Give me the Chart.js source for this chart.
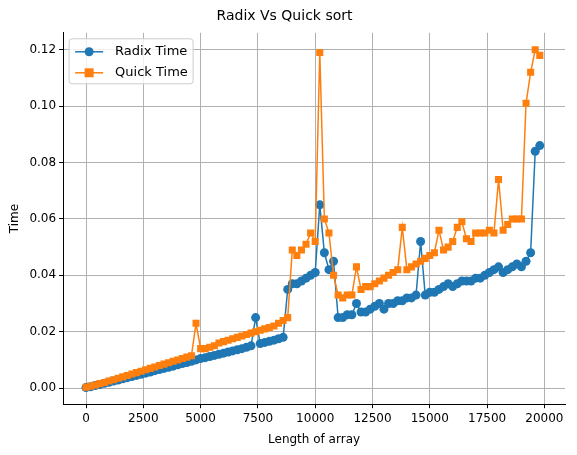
<!DOCTYPE html>
<html><head><script src="https://cdn.jsdelivr.net/npm/chart.js"></script>
<style>body{margin:0;background:#fff}</style></head>
<body><canvas id="c" width="577" height="455"></canvas>
<script>
const lengths=[];for(let i=0;i<100;i++)lengths.push(i*200);
const radixTime=[0.0002,0.0005,0.0009,0.0013,0.0017,0.0021,0.0025,0.0029,0.0033,0.0037,0.0041,0.0045,0.0049,0.0053,0.0057,0.0062,0.0066,0.0070,0.0074,0.0078,0.0083,0.0087,0.0091,0.0095,0.0100,0.0105,0.0108,0.0112,0.0116,0.0120,0.0124,0.0128,0.0132,0.0136,0.0140,0.0145,0.0150,0.0250,0.0158,0.0162,0.0166,0.0170,0.0175,0.0180,0.035,0.037,0.037,0.038,0.039,0.040,0.041,0.065,0.048,0.042,0.045,0.025,0.025,0.026,0.026,0.030,0.027,0.027,0.028,0.029,0.030,0.028,0.030,0.030,0.031,0.031,0.032,0.032,0.033,0.052,0.033,0.034,0.034,0.035,0.036,0.037,0.036,0.037,0.038,0.038,0.038,0.039,0.039,0.040,0.041,0.042,0.043,0.041,0.042,0.043,0.044,0.043,0.045,0.048,0.084,0.086];
const quickTime=[0.0003,0.0007,0.0011,0.0016,0.0020,0.0025,0.0030,0.0035,0.0040,0.0045,0.0050,0.0055,0.0060,0.0065,0.0070,0.0075,0.0080,0.0085,0.0090,0.0095,0.0100,0.0105,0.0110,0.0115,0.0230,0.0140,0.0140,0.0145,0.0150,0.0160,0.0165,0.0170,0.0175,0.0180,0.0185,0.0190,0.0195,0.0200,0.0205,0.0210,0.0215,0.0220,0.0230,0.0240,0.0250,0.049,0.047,0.049,0.051,0.055,0.052,0.119,0.060,0.055,0.040,0.033,0.032,0.033,0.033,0.043,0.035,0.036,0.036,0.037,0.038,0.039,0.040,0.041,0.042,0.057,0.042,0.043,0.044,0.045,0.046,0.047,0.048,0.056,0.049,0.050,0.052,0.057,0.059,0.053,0.052,0.055,0.055,0.055,0.056,0.055,0.074,0.056,0.058,0.060,0.060,0.060,0.101,0.112,0.120,0.118];
const xTicks=[0,2500,5000,7500,10000,12500,15000,17500,20000];
const yTicks=[0,0.02,0.04,0.06,0.08,0.10,0.12];
const blue='#1f77b4',orange='#ff7f0e';
Chart.defaults.font.family='"DejaVu Sans"';Chart.defaults.font.size=10;Chart.defaults.color='#000';
const legendPlugin={id:'lg',afterDraw(ch){const c=ch.ctx,a=ch.chartArea;const x=a.left+6,y=a.top+6;
c.save();c.fillStyle='rgba(255,255,255,0.8)';c.strokeStyle='#ccc';c.lineWidth=1;
c.beginPath();c.roundRect(x,y,124,45,3);c.fill();c.stroke();
[[blue,'Radix Time','c'],[orange,'Quick Time','s']].forEach((e,i)=>{const yy=y+13+i*21;
c.strokeStyle=e[0];c.lineWidth=1.5;c.beginPath();c.moveTo(x+6,yy);c.lineTo(x+34,yy);c.stroke();
c.fillStyle=e[0];if(e[2]=='c'){c.beginPath();c.arc(x+20,yy,4.5,0,7);c.fill();}else c.fillRect(x+15.5,yy-4.5,9,9);
c.fillStyle='#000';c.font='13px "DejaVu Sans"';c.textBaseline='middle';c.fillText(e[1],x+46,yy);});c.restore();}};
new Chart(document.getElementById('c'),{type:'line',
data:{datasets:[
{label:'Radix Time',order:2,data:lengths.map((x,i)=>({x,y:radixTime[i]})),borderColor:blue,backgroundColor:blue,borderWidth:1.5,pointRadius:4.5,pointBorderWidth:0,pointStyle:'circle'},
{label:'Quick Time',order:1,data:lengths.map((x,i)=>({x,y:quickTime[i]})),borderColor:orange,backgroundColor:orange,borderWidth:1.5,pointRadius:5,pointBorderWidth:0,pointStyle:'rect'}]},
options:{responsive:false,animation:false,layout:{padding:{left:4,right:12,top:0,bottom:4}},
plugins:{legend:{display:false},tooltip:{enabled:false},title:{display:true,text:'Radix Vs Quick sort',font:{size:14,weight:'normal'},padding:{top:8,bottom:8}}},
scales:{x:{type:'linear',min:-1000,max:20900,afterBuildTicks(s){s.ticks=xTicks.map(v=>({value:v}))},
ticks:{font:{size:12},autoSkip:false,callback:v=>String(v),maxRotation:0},grid:{color:'#b0b0b0',tickColor:'#000',tickLength:4},border:{color:'#000'},
title:{display:true,text:'Length of array',font:{size:12}}},
y:{min:-0.0057,max:0.126,afterBuildTicks(s){s.ticks=yTicks.map(v=>({value:v}))},
ticks:{font:{size:12},autoSkip:false,callback:v=>v.toFixed(2)},grid:{color:'#b0b0b0',tickColor:'#000',tickLength:4},border:{color:'#000'},
title:{display:true,text:'Time',font:{size:12}}}}},plugins:[legendPlugin]});
</script></body></html>
